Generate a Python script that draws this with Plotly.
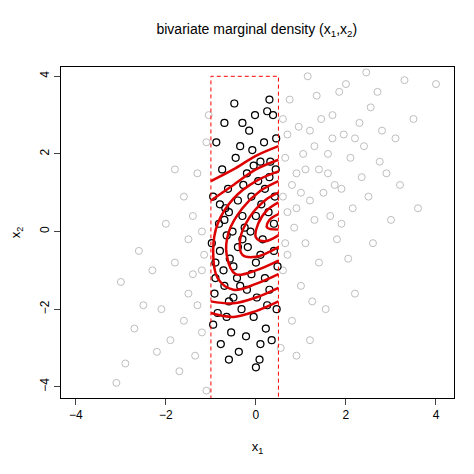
import plotly.graph_objects as go

# points (approximate)
pts = [(-0.9,-1.2),(-0.8,-0.5),(-0.7,0.3),(-0.6,-1.8),(-0.5,-0.9),(-0.4,0.8),(-0.3,-0.2),(-0.2,1.5),(-0.1,-1.1),(0.0,0.4),
       (0.1,-0.6),(0.2,1.1),(0.3,-1.5),(0.4,0.2),(0.45,2.4),(-0.95,0.9),(-0.85,-2.1),(-0.75,1.6),(-0.65,-0.1),(-0.55,-2.6),
       (-0.45,1.9),(-0.35,-1.4),(-0.25,0.1),(-0.15,2.6),(-0.05,-2.2),(0.05,1.3),(0.15,-0.2),(0.25,3.1),(0.35,-2.8),(0.42,0.9),
       (-0.98,-0.3),(-0.88,2.3),(-0.78,-2.9),(-0.68,0.6),(-0.58,-0.7),(-0.48,3.3),(-0.38,-3.1),(-0.28,1.2),(-0.18,-0.4),(-0.08,2.1),
       (0.02,-1.7),(0.12,0.7),(0.22,-2.5),(0.32,1.8),(0.48,-0.9),(-0.92,-1.6),(-0.72,-1.0),(-0.52,0.0),(-0.32,-2.0),(-0.12,0.0),
       (0.08,-3.3),(0.28,0.5),(0.38,3.0),(-0.62,1.1),(-0.42,-1.2),(-0.22,-2.7),(-0.02,3.0),(0.18,2.3),(0.46,-2.0),(-0.82,0.2),
       (-0.3,2.8),(0.1,-2.9),(-0.6,-3.3),(0.0,-3.5),(0.3,3.4),(-0.7,2.8),
       (-0.9,-0.8),(-0.8,0.7),(-0.7,-1.4),(-0.6,0.5),(-0.5,-1.7),(-0.4,-0.4),(-0.3,0.4),(-0.2,-1.5),(-0.1,0.9),(0.0,-0.8),
       (0.1,1.8),(0.2,-1.2),(0.3,1.4),(0.4,-0.5),(0.44,1.6),(-0.95,-2.4),(-0.65,-2.2),(-0.35,2.2),(-0.05,1.7),(0.25,-1.9),
       (-1.2,-1.0),(-1.5,-1.6),(-1.8,-0.8),(-2.1,-2.0),(-2.5,-1.9),(-3.0,-1.3),(-3.1,-3.9),(-2.2,-3.1),(-1.4,0.4),(-1.3,1.5),
       (-1.6,0.9),(-2.0,0.2),(-1.1,2.3),(-1.9,-2.8),(-1.7,-3.6),(-2.7,-2.5),(-1.2,-2.6),(-1.5,-0.2),(-2.3,-1.0),(-1.05,3.0),
       (-2.6,-0.5),(-1.35,-3.2),(-1.8,1.6),(-1.1,-4.1),(-2.9,-3.4),(-1.2,0.0),(-1.3,-1.9),(-1.6,-2.3),(-1.15,-0.6),(-1.4,-1.1),
       (0.7,0.5),(0.9,1.5),(1.1,-0.3),(1.3,2.2),(1.5,1.0),(1.7,3.0),(1.9,0.2),(2.1,1.9),(2.3,2.8),(2.5,0.9),
       (2.7,3.6),(2.9,1.5),(3.1,2.4),(3.3,3.9),(3.6,0.6),(4.0,3.8),(0.6,-1.0),(0.8,-2.3),(1.0,-1.4),(1.2,0.8),
       (1.4,-0.8),(1.6,2.0),(1.8,-0.2),(2.0,3.8),(2.2,-1.6),(2.4,2.2),(2.6,-0.3),(0.75,3.4),(0.95,2.7),(1.15,4.0),
       (1.35,3.5),(1.55,-2.0),(1.75,1.2),(1.95,2.5),(2.15,0.6),(2.35,1.4),(2.55,3.2),(2.75,1.8),(3.0,0.3),(0.65,1.9),
       (0.85,0.1),(1.05,2.0),(1.25,-1.8),(1.45,2.9),(1.65,0.4),(1.85,3.6),(2.05,-0.7),(2.45,4.1),(3.5,2.9),(0.55,-3.0),
       (0.9,-3.2),(1.2,-2.8),(0.7,2.5),(1.0,1.0),(1.4,1.6),(1.9,1.1),(2.8,2.6),(3.2,1.2),(0.6,0.9),(0.8,1.2),
       (0.65,-0.3),(0.9,0.6),(1.1,1.6),(1.3,0.3),(0.7,-0.6),(1.6,1.5),(1.2,2.6),(0.6,2.9),(2.2,2.4),(1.7,2.4)]
x_all = [p[0] for p in pts]
y_all = [p[1] for p in pts]
box_lo, box_hi = -1.0, 0.5
x_in = [p[0] for p in pts if box_lo <= p[0] <= box_hi]
y_in = [p[1] for p in pts if box_lo <= p[0] <= box_hi]

# contour lines
contours = [
    [(0.5,2.2),(0.0,1.95),(-0.5,1.6),(-1.0,1.3),None,(-1.0,-2.1),(-0.5,-2.2),(0.0,-2.05),(0.5,-1.8)],
    [(0.5,1.85),(0.0,1.6),(-0.5,1.2),(-1.0,0.8),None,(-1.0,-1.8),(-0.5,-1.85),(0.0,-1.7),(0.5,-1.45)],
    [(0.5,1.55),(0.0,1.3),(-0.5,0.85),(-0.85,0.2),(-0.95,-0.5),(-0.85,-1.2),(-0.5,-1.5),(0.0,-1.35),(0.5,-1.1)],
    [(0.5,1.3),(0.1,1.05),(-0.3,0.6),(-0.6,0.0),(-0.65,-0.6),(-0.45,-1.1),(0.0,-1.0),(0.5,-0.75)],
    [(0.5,1.0),(0.2,0.8),(-0.15,0.35),(-0.35,-0.2),(-0.3,-0.6),(0.0,-0.65),(0.5,-0.4)],
    [(0.5,0.75),(0.25,0.55),(0.05,0.2),(0.0,-0.15),(0.2,-0.25),(0.5,-0.1)],
    [(0.5,0.45),(0.3,0.3),(0.25,0.1),(0.5,0.05)],
]

fig = go.Figure()
fig.add_trace(go.Scatter(x=x_all, y=y_all, mode="markers",
    marker=dict(symbol="circle-open", size=7, color="#BEBEBE", line=dict(width=1))))
fig.add_trace(go.Scatter(x=x_in, y=y_in, mode="markers",
    marker=dict(symbol="circle-open", size=7, color="black", line=dict(width=1.2))))
for c in contours:
    cx = [p[0] if p else None for p in c]
    cy = [p[1] if p else None for p in c]
    fig.add_trace(go.Scatter(x=cx, y=cy, mode="lines", line=dict(color="#DD0000", width=2.5, shape="spline")))

fig.add_shape(type="rect", x0=box_lo, x1=box_hi, y0=-4.5, y1=4,
              line=dict(color="red", width=1, dash="4px,3px"))

ax = dict(showgrid=False, zeroline=False, ticks="outside", ticklen=6,
          showline=True, mirror=True, linecolor="black", tickfont=dict(size=12, color="black"),
          tickvals=[-4, -2, 0, 2, 4], ticktext=["\u22124", "\u22122", "0", "2", "4"])
fig.update_layout(
    width=474, height=474, showlegend=False, plot_bgcolor="white", paper_bgcolor="white",
    font=dict(family="Liberation Sans, Arial", color="black"),
    margin=dict(l=53, r=28, t=59, b=84, autoexpand=False),
    title=dict(text="bivariate marginal density (x<sub>1</sub>,x<sub>2</sub>)", x=0.525, y=0.965,
               xanchor="center", font=dict(size=14)),
    xaxis=dict(ax, range=[-4.33, 4.4], title=dict(text="x<sub>1</sub>", font=dict(size=13), standoff=20)),
    yaxis=dict(ax, range=[-4.29, 4.24], tickangle=-90, title=dict(text="x<sub>2</sub>", font=dict(size=13), standoff=20)),
)
fig.write_html("out.html")
